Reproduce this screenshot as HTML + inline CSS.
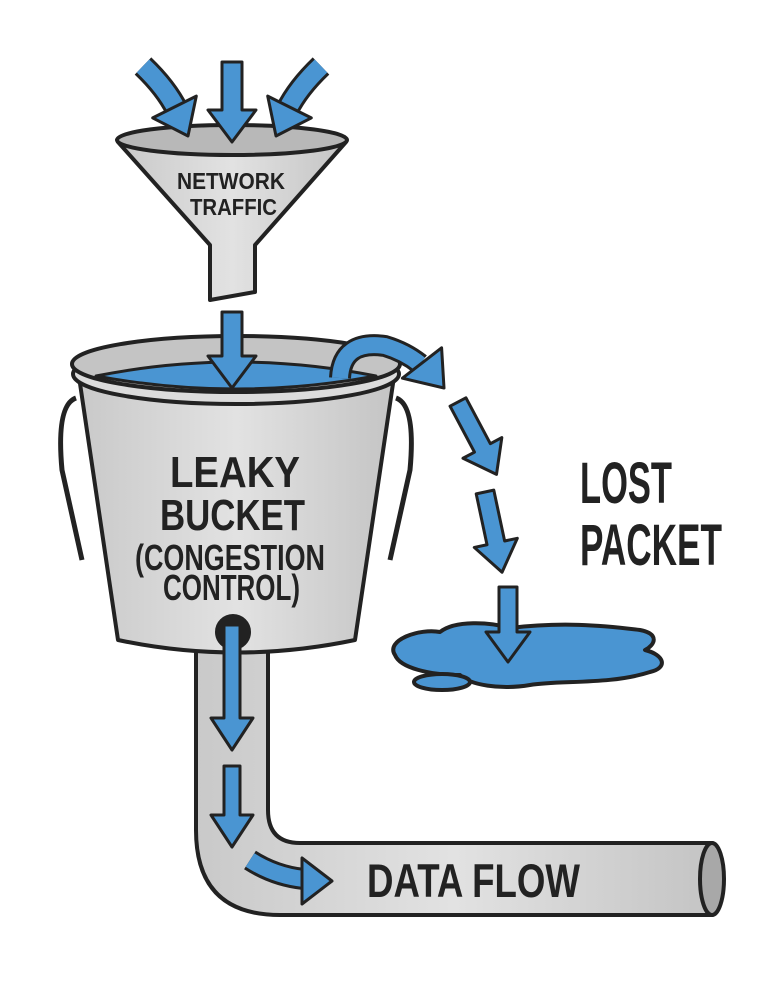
<!DOCTYPE html>
<html><head><meta charset="utf-8"><style>
html,body{margin:0;padding:0;background:#fff;}
svg{display:block}
text{font-family:"Liberation Sans Narrow","Liberation Sans",sans-serif;font-weight:bold;fill:#222;}
</style></head><body>
<svg width="771" height="1000" viewBox="0 0 771 1000" xmlns="http://www.w3.org/2000/svg">
<defs>
<linearGradient id="g" x1="0" x2="1"><stop offset="0" stop-color="#c9c9c9"/><stop offset="0.5" stop-color="#e2e2e2"/><stop offset="1" stop-color="#c4c4c4"/></linearGradient>
</defs>
<g stroke="#222" stroke-width="4" stroke-linejoin="round">
<!-- funnel -->
<path d="M118,142 L210,245 L210,300 L255,292 L255,245 L346,142 Z" fill="url(#g)"/>
<ellipse cx="232" cy="140" rx="115" ry="15" fill="#b8b8b8"/>
<!-- handles -->
<path d="M76,398 Q56,405 62,470 L82,560" fill="none" stroke-width="5"/>
<path d="M396,398 Q416,405 410,470 L390,560" fill="none" stroke-width="5"/>
<!-- pipe -->
<path d="M196,640 L196,830 Q196,915 280,915 L712,915 L712,843 L300,843 Q268,843 268,810 L268,640 Z" fill="url(#g)"/>
<ellipse cx="712" cy="879" rx="12" ry="36" fill="#a8a8a8"/>
<!-- bucket -->
<path d="M78,370 L118,640 Q236,665 355,640 L395,370 Z" fill="url(#g)"/>
<ellipse cx="236" cy="374" rx="163" ry="30" fill="#dcdcdc"/>
<ellipse cx="236" cy="364" rx="164" ry="28" fill="#c4c4c4"/>
<path d="M96,376 Q236,348 376,376 Q236,402 96,376 Z" fill="#4a95d2" stroke-width="3"/>
<ellipse cx="233" cy="632" rx="16" ry="16" fill="#222"/>
<!-- puddle -->
<path d="M395,655 C385,640 420,628 440,632 C455,620 490,622 510,628 C560,622 600,625 640,630 C660,634 655,645 645,650 C665,655 668,668 650,672 C610,685 560,680 530,685 C500,690 470,685 460,675 C430,675 400,668 395,655 Z" fill="#4a95d2"/>
<ellipse cx="442" cy="682" rx="28" ry="8" fill="#4a95d2"/>
</g>
<!-- arrows -->
<g fill="#4a95d2" stroke="#222" stroke-width="3" stroke-linejoin="round">
<polygon points="222,62 242,62 242,110 256,110 232,142 208,110 222,110"/>
<polygon points="222,312 242,312 242,356 256,356 232,388 208,356 222,356"/>
<polygon points="224,625 240,625 240,718 253,718 232,750 211,718 224,718"/>
<polygon points="224,766 240,766 240,815 253,815 232,847 211,815 224,815"/>
<g transform="translate(458,402) rotate(-28)"><polygon points="-9,0 9,0 9,52 22,52 0,82 -22,52 -9,52"/></g>
<g transform="translate(485,492) rotate(-12)"><polygon points="-9,0 9,0 9,52 22,52 0,82 -22,52 -9,52"/></g>
<g transform="translate(508,587)"><polygon points="-9,0 9,0 9,45 22,45 0,75 -22,45 -9,45"/></g>
</g>
<g fill="none" stroke-linecap="butt">
<path d="M143,66 Q166,88 177,110" stroke="#222" stroke-width="24"/>
<path d="M143,66 Q166,88 177,110" stroke="#4a95d2" stroke-width="18"/>
<path d="M321,66 Q298,88 287,110" stroke="#222" stroke-width="24"/>
<path d="M321,66 Q298,88 287,110" stroke="#4a95d2" stroke-width="18"/>
<path d="M340,378 Q342,340 385,346 Q405,352 420,364" stroke="#222" stroke-width="22"/>
<path d="M340,378 Q342,340 385,346 Q405,352 420,364" stroke="#4a95d2" stroke-width="16"/>
<path d="M250,860 Q275,876 304,879" stroke="#222" stroke-width="22"/>
<path d="M250,860 Q275,876 304,879" stroke="#4a95d2" stroke-width="16"/>
</g>
<g fill="#4a95d2" stroke="#222" stroke-width="3" stroke-linejoin="round">
<polygon points="188,136 152.7,117.9 196.3,96.1"/>
<polygon points="276,136 311.3,117.9 267.7,96.1"/>
<polygon points="444,388 402.4,378.2 441.6,347.8"/>
<polygon points="332,881 302,858 302,904"/>
</g>
<!-- text -->
<text x="177" y="189" font-size="23" textLength="108" lengthAdjust="spacingAndGlyphs">NETWORK</text>
<text x="190" y="215" font-size="23" textLength="87" lengthAdjust="spacingAndGlyphs">TRAFFIC</text>
<text x="170" y="487" font-size="44" textLength="130" lengthAdjust="spacingAndGlyphs">LEAKY</text>
<text x="160" y="530" font-size="44" textLength="145" lengthAdjust="spacingAndGlyphs">BUCKET</text>
<text x="135" y="570" font-size="36" textLength="190" lengthAdjust="spacingAndGlyphs">(CONGESTION</text>
<text x="163" y="600" font-size="36" textLength="137" lengthAdjust="spacingAndGlyphs">CONTROL)</text>
<text x="580" y="503" font-size="58" textLength="92" lengthAdjust="spacingAndGlyphs">LOST</text>
<text x="580" y="565" font-size="58" textLength="142" lengthAdjust="spacingAndGlyphs">PACKET</text>
<text x="367" y="897" font-size="47" textLength="213" lengthAdjust="spacingAndGlyphs">DATA FLOW</text>
</svg>
</body></html>
